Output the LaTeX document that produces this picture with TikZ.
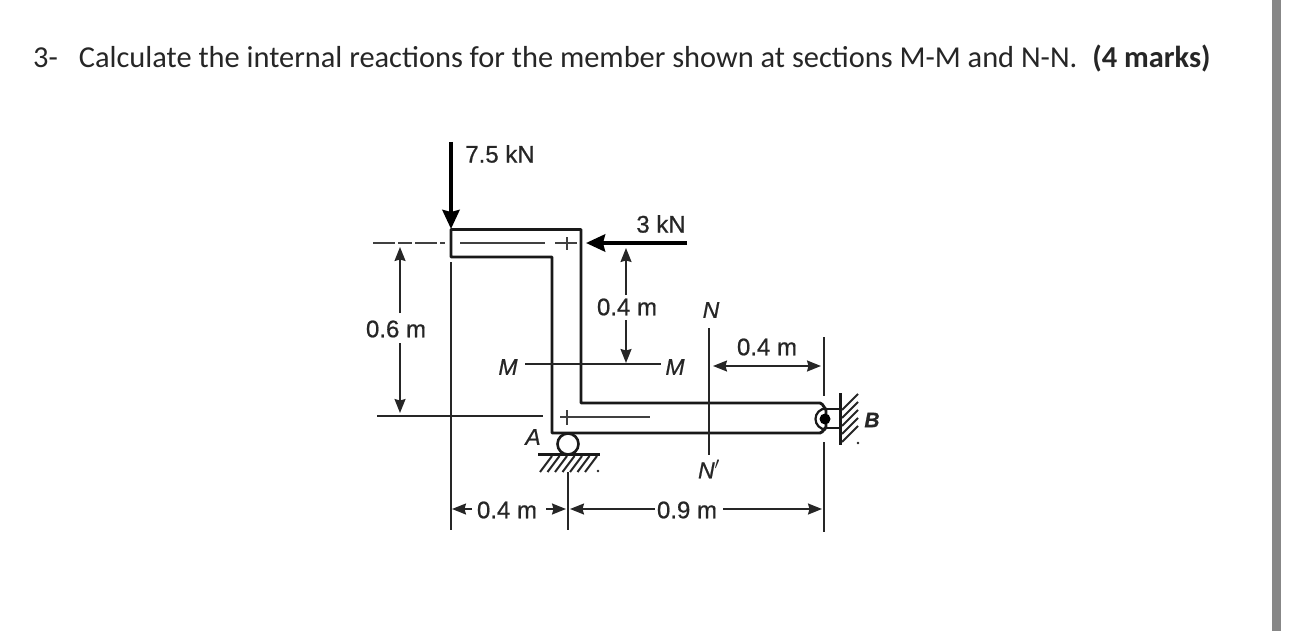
\documentclass[tikz,border=0pt]{standalone}
\usepackage{fontspec}
\setmainfont{Carlito}
\newfontfamily\figfont[FakeBold=0.7]{Liberation Sans}
\usetikzlibrary{arrows.meta}
\tikzset{
  x=1pt,y=-1pt,
  member/.style={line width=2.9pt,black!90,line join=round},
  thin line/.style={line width=1.6pt,black!85},
  center line/.style={line width=1.7pt,black!75},
  dimtip/.tip={Stealth[length=14pt,width=11pt,inset=1.5pt]},
  dim/.style={line width=1.6pt,black!85,-dimtip},
  load/.style={line width=4pt,black,-{Stealth[length=19pt,width=17pt,inset=2pt]}},
  fig label/.style={font=\figfont\fontsize{24}{26}\selectfont,text=black!85,inner sep=0pt},
  tag/.style={font=\figfont\itshape\fontsize{23}{26}\selectfont,text=black!85,inner sep=0pt},
  hatch/.style={line width=2pt,black!85},
}
\begin{document}
\begin{tikzpicture}
\useasboundingbox (0,0) rectangle (1290,631);
\fill[white] (0,0) rectangle (1290,631);
\fill[black!47] (1272,0) rectangle (1281,631);

\node[anchor=west,inner sep=0pt,font=\fontsize{30.4}{34}\selectfont,text=black!85] (title) at (33,59)
 {3-\hspace{21pt}Calculate the internal reactions for the member shown at sections M-M and N-N.\hspace{15pt}\textbf{(4 marks)}};

% member outline
\draw[member] (451,257) -- (451,229.5) -- (581,229.5) -- (581,403) -- (820,403)
  to[out=0,in=-90] (826,409) -- (826,428) to[out=90,in=0] (820,433) -- (552,433) -- (552,257) -- cycle;

% centre lines
\coordinate (cl1a) at (373,243); \coordinate (cl1b) at (445,243);
\draw[center line,dash pattern=on 22pt off 3pt on 14pt off 3pt] (cl1a) -- (cl1b);
\coordinate (cl2a) at (460,243); \coordinate (cl2b) at (545,243);
\draw[center line] (cl2a) -- (cl2b);
\coordinate (cl3a) at (555,243); \coordinate (cl3b) at (577,243);
\draw[center line] (cl3a) -- (cl3b);
\coordinate (tk1a) at (567,237); \coordinate (tk1b) at (567,250);
\draw[center line] (tk1a) -- (tk1b);
\coordinate (cl4a) at (560,417); \coordinate (cl4b) at (650,417);
\draw[center line] (cl4a) -- (cl4b);
\coordinate (tk2a) at (567,410); \coordinate (tk2b) at (567,425);
\draw[center line] (tk2a) -- (tk2b);

% loads
\coordinate (p1a) at (451,142); \coordinate (p1b) at (451,229);
\draw[load] (p1a) -- (p1b);
\coordinate (p2a) at (687,243); \coordinate (p2b) at (586,243);
\draw[load] (p2a) -- (p2b);
\node[fig label] (l75) at (500,154) {7.5 kN};
\node[fig label] (l3) at (661,224) {3 kN};

% extension lines
\coordinate (e1a) at (451,262); \coordinate (e1b) at (451,530);
\draw[thin line] (e1a) -- (e1b);
\coordinate (e2a) at (377,416); \coordinate (e2b) at (543,416);
\draw[thin line] (e2a) -- (e2b);
\coordinate (e3a) at (568,472); \coordinate (e3b) at (568,530);
\draw[thin line] (e3a) -- (e3b);
\coordinate (e4a) at (824,337); \coordinate (e4b) at (824,396);
\draw[thin line] (e4a) -- (e4b);
\coordinate (e5a) at (824,442); \coordinate (e5b) at (824,532);
\draw[thin line] (e5a) -- (e5b);

% 0.6 m
\node[fig label] (l06) at (396,329) {0.6 m};
\coordinate (d1a) at (400,313); \coordinate (d1b) at (400,247);
\draw[dim] (d1a) -- (d1b);
\coordinate (d2a) at (400,343); \coordinate (d2b) at (400,413);
\draw[dim] (d2a) -- (d2b);

% 0.4 m vertical
\node[fig label] (l04a) at (627,307) {0.4 m};
\coordinate (d3a) at (626,295); \coordinate (d3b) at (626,248);
\draw[dim] (d3a) -- (d3b);
\coordinate (d4a) at (626,320); \coordinate (d4b) at (626,363);
\draw[dim] (d4a) -- (d4b);

% 0.4 m horizontal, right
\node[fig label] (l04b) at (767,347) {0.4 m};
\coordinate (d5a) at (713,366); \coordinate (d5b) at (821,366);
\draw[dim,dimtip-dimtip] (d5a) -- (d5b);

% bottom dimensions
\node[fig label] (l04c) at (507,510) {0.4 m};
\coordinate (d6a) at (472,509); \coordinate (d6b) at (452,509);
\draw[dim] (d6a) -- (d6b);
\coordinate (d7a) at (546,509); \coordinate (d7b) at (566,509);
\draw[dim] (d7a) -- (d7b);
\node[fig label] (l09) at (687,510) {0.9 m};
\coordinate (d8a) at (655,509); \coordinate (d8b) at (570,509);
\draw[dim] (d8a) -- (d8b);
\coordinate (d9a) at (723,509); \coordinate (d9b) at (822,509);
\draw[dim] (d9a) -- (d9b);

% section M-M
\node[tag] (mL) at (508,367) {M};
\node[tag] (mR) at (675,367) {M};
\coordinate (m1) at (525,364); \coordinate (m2) at (661,364);
\draw[thin line] (m1) -- (m2);

% section N-N
\node[tag] (nT) at (711,310) {N};
\node[tag] (nB) at (709,469) {N$'$};
\coordinate (n1) at (709,328); \coordinate (n2) at (709,455);
\draw[thin line] (n1) -- (n2);

% roller A
\node[tag] (lA) at (533,437) {A};
\node[circle,draw=black!90,line width=2.6pt,fill=white,minimum size=21pt,inner sep=0pt] (roller) at (568,444) {};
\coordinate (g1) at (538,454.5); \coordinate (g2) at (600,454.5);
\draw[line width=2.6pt,black!90] (g1) -- (g2);
\foreach \x in {540,547.5,555,562.5,570,577.5,585}
  \draw[hatch] (\x,472) -- (\x+12,456);
\fill[black!85] (598,471) circle (1.3);

% pin B
\coordinate (w1) at (840,393); \coordinate (w2) at (840,445);
\draw[line width=3pt,black!90] (w1) -- (w2);
\draw[member,line width=2.2pt] (826,409) -- (840,409);
\draw[member,line width=2.2pt] (826,428) -- (840,428);
\draw[line width=2.2pt,black!90] (826,408.5) arc[start angle=-90,end angle=-270,radius=10.5];
\node[circle,fill=black,minimum size=11pt,inner sep=0pt] (pin) at (825,419) {};
\foreach \y in {410,418,426,434,442}
  \draw[hatch] (842,\y) -- (858,\y-16);
\fill[black!85] (858,443) circle (1.3);
\node[tag,font=\figfont\bfseries\itshape\fontsize{21}{24}\selectfont] (lB) at (872,420) {B};
\end{tikzpicture}
\end{document}
